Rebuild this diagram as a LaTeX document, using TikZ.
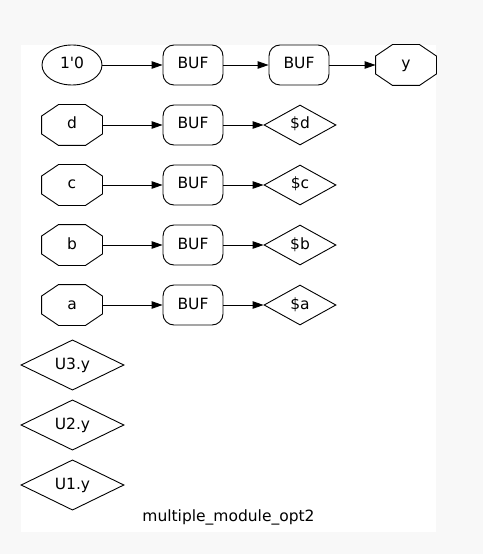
\documentclass[tikz,border=0pt]{standalone}
\usepackage{fontspec}
\setmainfont{DejaVu Sans}
\usetikzlibrary{shapes.geometric,arrows.meta}
\definecolor{bgcol}{RGB}{248,248,248}
\begin{document}
\begin{tikzpicture}[x=1bp,y=-1bp,
  font=\fontsize{15.5bp}{18bp}\selectfont,
  base/.style={inner sep=0pt, minimum width=60bp, minimum height=40bp, line width=0.9bp,
    text height=11.5bp, text depth=3.5bp},
  bufbox/.style={base, draw, rounded corners=11bp},
  constnode/.style={base, draw, ellipse},
  octnode/.style={base},
  pinnode/.style={base, draw, diamond, minimum width=72bp},
  netnode/.style={pinnode, minimum width=103bp},
  conn/.style={-{Triangle[length=11bp,width=7.5bp]}, line width=0.9bp}
]
\fill[bgcol] (0,0) rectangle (483,554);
\fill[white] (21,45) rectangle (436,532);

\node[constnode] (k) at (72,65) {1\textquotesingle 0};
\node[bufbox] (b1) at (193,65) {BUF};
\node[bufbox] (b2) at (299,65) {BUF};
\node[octnode] (y) at (406,65) {y};

\node[octnode] (d) at (72,125) {d};
\node[bufbox] (bd) at (193,125) {BUF};
\node[pinnode] (pd) at (300,125) {\$d};

\node[octnode] (c) at (72,185) {c};
\node[bufbox] (bc) at (193,185) {BUF};
\node[pinnode] (pc) at (300,185) {\$c};

\node[octnode] (b) at (72,245) {b};
\node[bufbox] (bb) at (193,245) {BUF};
\node[pinnode] (pb) at (300,245) {\$b};

\node[octnode] (a) at (72,305) {a};
\node[bufbox] (ba) at (193,305) {BUF};
\node[pinnode] (pa) at (300,305) {\$a};

\node[netnode] (u3) at (72.5,365) {U3.y};
\node[netnode] (u2) at (72.5,425) {U2.y};
\node[netnode] (u1) at (72.5,485) {U1.y};

\node[text height=11.5bp, text depth=3.5bp] (title) at (228.5,517) {multiple\_module\_opt2};

\foreach \n in {y,d,c,b,a}{
  \draw[line width=0.9bp] ([xshift=17bp]\n.north west) -- ([xshift=-17bp]\n.north east)
    -- ([yshift=-11.5bp]\n.north east) -- ([yshift=11.5bp]\n.south east)
    -- ([xshift=-17bp]\n.south east) -- ([xshift=17bp]\n.south west)
    -- ([yshift=11.5bp]\n.south west) -- ([yshift=-11.5bp]\n.north west) -- cycle;
}

\draw[conn] (k) -- (b1);
\draw[conn] (b1) -- (b2);
\draw[conn] (b2) -- (y);
\draw[conn] (d) -- (bd);
\draw[conn] (bd) -- (pd);
\draw[conn] (c) -- (bc);
\draw[conn] (bc) -- (pc);
\draw[conn] (b) -- (bb);
\draw[conn] (bb) -- (pb);
\draw[conn] (a) -- (ba);
\draw[conn] (ba) -- (pa);
\end{tikzpicture}
\end{document}
